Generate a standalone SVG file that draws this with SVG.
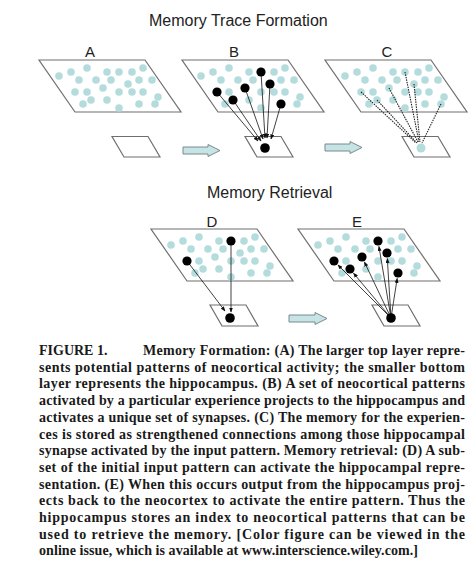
<svg xmlns="http://www.w3.org/2000/svg" xmlns:xlink="http://www.w3.org/1999/xlink" width="474" height="583" viewBox="0 0 474 583">
<style>
.title{font-family:"Liberation Sans",Arial,sans-serif;font-size:16px;fill:#222}
.lbl{font-family:"Liberation Sans",Arial,sans-serif;font-size:15px;fill:#222;text-anchor:middle}
.layer{fill:#fff;stroke:#6f6f6f;stroke-width:1.2}
.lt{fill:#b4dcdd}
.blk{fill:#000}
.arr{stroke:#111;stroke-width:0.8;fill:none}
.dash{stroke:#222;stroke-width:1.1;stroke-dasharray:1.5,1;fill:none}
.big{fill:#c6e3e6;stroke:#7a8a8c;stroke-width:1}
.cap{font-family:"Liberation Serif","Times New Roman",serif;font-size:14px;font-weight:bold;fill:#1a1a1a}
</style>
<defs>
<marker id="ah" markerUnits="userSpaceOnUse" markerWidth="5" markerHeight="4" refX="4.5" refY="2" orient="auto">
<path d="M0,0 L5,2 L0,4 Z" fill="#111"/>
</marker>
<g id="pat" class="lt">
<circle cx="59" cy="76" r="3.8"/><circle cx="71" cy="72" r="3.8"/><circle cx="87" cy="68" r="3.8"/><circle cx="107" cy="72" r="3.8"/><circle cx="119" cy="72" r="3.8"/><circle cx="132" cy="72" r="3.8"/><circle cx="143" cy="68" r="3.8"/>
<circle cx="79" cy="80" r="3.8"/><circle cx="96" cy="80" r="3.8"/><circle cx="111" cy="80" r="3.8"/><circle cx="128" cy="84" r="3.8"/><circle cx="139" cy="80" r="3.8"/><circle cx="152" cy="80" r="3.8"/>
<circle cx="103" cy="88" r="3.8"/><circle cx="75" cy="92" r="3.8"/><circle cx="87" cy="92" r="3.8"/><circle cx="119" cy="92" r="3.8"/><circle cx="132" cy="92" r="3.8"/><circle cx="143" cy="92" r="3.8"/><circle cx="158" cy="97" r="3.8"/>
<circle cx="83" cy="104" r="3.8"/><circle cx="91" cy="100" r="3.8"/><circle cx="107" cy="100" r="3.8"/><circle cx="119" cy="108" r="3.8"/><circle cx="139" cy="104" r="3.8"/><circle cx="155" cy="104" r="3.8"/>
</g>
</defs>
<rect width="474" height="583" fill="#fff"/>

<text class="title" x="149" y="26">Memory Trace Formation</text>
<text class="title" x="207" y="198">Memory Retrieval</text>

<g id="panelA">
<text class="lbl" x="90" y="57">A</text>
<polygon class="layer" points="39,60 145,60 181,112 75,112"/>
<use xlink:href="#pat"/>
<polygon class="layer" points="112,136.5 148,136.5 160,157 124,157"/>
</g>

<g id="panelB">
<text class="lbl" x="234" y="57">B</text>
<polygon class="layer" points="182,60 288,60 324,112 218,112"/>
<use xlink:href="#pat" x="142"/>
<polygon class="layer" points="245,136.5 281,136.5 293,157 257,157"/>
</g>

<g id="panelC">
<text class="lbl" x="387" y="57">C</text>
<polygon class="layer" points="325,60 431,60 467,112 361,112"/>
<use xlink:href="#pat" x="286"/>
<polygon class="layer" points="402,136.5 438,136.5 450,157 414,157"/>
</g>

<g id="panelD">
<text class="lbl" x="212" y="227">D</text>
<polygon class="layer" points="151,229 257,229 293,281 187,281"/>
<use xlink:href="#pat" x="112" y="169"/>
<polygon class="layer" points="210,305 246,305 258,326 222,326"/>
</g>

<g id="panelE">
<text class="lbl" x="357" y="227">E</text>
<polygon class="layer" points="298,229 404,229 440,281 334,281"/>
<use xlink:href="#pat" x="259" y="169"/>
<polygon class="layer" points="372,305 408,305 420,326 384,326"/>
</g>

<g id="blockArrows">
<polygon class="big" points="183,147 208,147 208,144.5 220,150.5 208,156.5 208,154 183,154"/>
<polygon class="big" points="325,144 350,144 350,141.5 362,147.5 350,153.5 350,151 325,151"/>
<polygon class="big" points="289,315 315,315 315,312.5 327,318.5 315,324.5 315,322 289,322"/>
</g>

<g id="connectors">
<line class="arr" x1="217" y1="92" x2="258" y2="141" marker-end="url(#ah)"/>
<line class="arr" x1="233" y1="100" x2="261" y2="141" marker-end="url(#ah)"/>
<line class="arr" x1="245" y1="88" x2="263" y2="139" marker-end="url(#ah)"/>
<line class="arr" x1="261" y1="72" x2="265" y2="138" marker-end="url(#ah)"/>
<line class="arr" x1="270" y1="84" x2="267" y2="138" marker-end="url(#ah)"/>
<line class="arr" x1="281" y1="104" x2="271" y2="139" marker-end="url(#ah)"/>

<line class="dash" x1="361" y1="92" x2="416" y2="143"/>
<line class="dash" x1="377" y1="100" x2="417" y2="143"/>
<line class="dash" x1="389" y1="88" x2="418" y2="142"/>
<line class="dash" x1="405" y1="72" x2="419" y2="142"/>
<line class="dash" x1="414" y1="84" x2="420" y2="142"/>
<line class="dash" x1="441" y1="104" x2="422" y2="143"/>

<line class="arr" x1="187" y1="261" x2="225" y2="311" marker-end="url(#ah)"/>
<line class="arr" x1="231" y1="241" x2="231" y2="312" marker-end="url(#ah)"/>

<line class="arr" x1="391" y1="318" x2="378.9" y2="246.4" marker-end="url(#ah)"/>
<line class="arr" x1="391" y1="318" x2="387.3" y2="258.5" marker-end="url(#ah)"/>
<line class="arr" x1="391" y1="318" x2="364.4" y2="262" marker-end="url(#ah)"/>
<line class="arr" x1="391" y1="318" x2="337.9" y2="264.9" marker-end="url(#ah)"/>
<line class="arr" x1="391" y1="318" x2="353.5" y2="273.2" marker-end="url(#ah)"/>
<line class="arr" x1="391" y1="318" x2="397.2" y2="278.4" marker-end="url(#ah)"/>
</g>

<g id="activeDots">
<circle class="blk" cx="261" cy="72" r="4.6"/><circle class="blk" cx="270" cy="84" r="4.6"/><circle class="blk" cx="245" cy="88" r="4.6"/><circle class="blk" cx="217" cy="92" r="4.6"/><circle class="blk" cx="233" cy="100" r="4.6"/><circle class="blk" cx="281" cy="104" r="4.6"/>
<circle class="blk" cx="265" cy="148" r="4.8"/>
<circle class="lt" cx="421" cy="148" r="4.5"/>
<circle class="blk" cx="231" cy="241" r="4.6"/><circle class="blk" cx="187" cy="261" r="4.6"/>
<circle class="blk" cx="230" cy="318" r="4.8"/>
<circle class="blk" cx="378" cy="241" r="4.6"/><circle class="blk" cx="387" cy="253" r="4.6"/><circle class="blk" cx="362" cy="257" r="4.6"/><circle class="blk" cx="334" cy="261" r="4.6"/><circle class="blk" cx="350" cy="269" r="4.6"/><circle class="blk" cx="398" cy="273" r="4.6"/>
<circle class="blk" cx="391" cy="318" r="4.8"/>
</g>

<g id="caption">
<text class="cap" x="39" y="355">FIGURE 1.</text>
<text class="cap" x="143" y="355" textLength="322" lengthAdjust="spacing">Memory Formation: (A) The larger top layer repre-</text>
<text class="cap" x="39" y="371.7" textLength="426" lengthAdjust="spacing">sents potential patterns of neocortical activity; the smaller bottom</text>
<text class="cap" x="39" y="388.4" textLength="426" lengthAdjust="spacing">layer represents the hippocampus. (B) A set of neocortical patterns</text>
<text class="cap" x="39" y="405.1" textLength="426" lengthAdjust="spacing">activated by a particular experience projects to the hippocampus and</text>
<text class="cap" x="39" y="421.8" textLength="426" lengthAdjust="spacing">activates a unique set of synapses. (C) The memory for the experien-</text>
<text class="cap" x="39" y="438.5" textLength="426" lengthAdjust="spacing">ces is stored as strengthened connections among those hippocampal</text>
<text class="cap" x="39" y="455.2" textLength="426" lengthAdjust="spacing">synapse activated by the input pattern. Memory retrieval: (D) A sub-</text>
<text class="cap" x="39" y="471.9" textLength="426" lengthAdjust="spacing">set of the initial input pattern can activate the hippocampal repre-</text>
<text class="cap" x="39" y="488.6" textLength="426" lengthAdjust="spacing">sentation. (E) When this occurs output from the hippocampus proj-</text>
<text class="cap" x="39" y="505.3" textLength="426" lengthAdjust="spacing">ects back to the neocortex to activate the entire pattern. Thus the</text>
<text class="cap" x="39" y="522" textLength="426" lengthAdjust="spacing">hippocampus stores an index to neocortical patterns that can be</text>
<text class="cap" x="39" y="538.7" textLength="426" lengthAdjust="spacing">used to retrieve the memory. [Color figure can be viewed in the</text>
<text class="cap" x="39" y="555.4" textLength="379" lengthAdjust="spacing">online issue, which is available at www.interscience.wiley.com.]</text>
</g>
</svg>
